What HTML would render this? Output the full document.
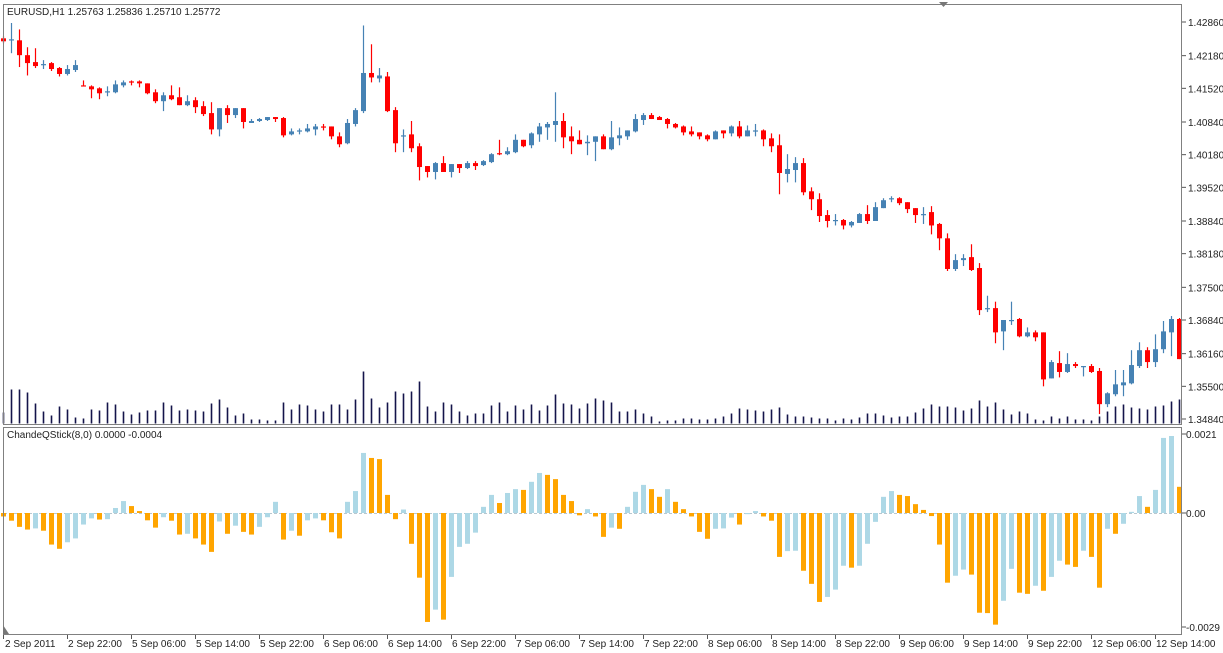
<!DOCTYPE html>
<html><head><meta charset="utf-8"><style>
html,body{margin:0;padding:0;background:#fff;}
svg{display:block;font-family:"Liberation Sans",sans-serif;font-size:10px;}
</style></head><body>
<svg id="chart" width="1223" height="653" viewBox="0 0 1223 653" xmlns="http://www.w3.org/2000/svg">
<rect x="0" y="0" width="1223" height="653" fill="#fff"/>
<g id="main"></g>
<g id="vol"></g>
<g id="ind"></g>
<g id="axes"></g>
<text x="7" y="15" fill="#222">EURUSD,H1  1.25763 1.25836 1.25710 1.25772</text>
<text x="7" y="438" fill="#222">ChandeQStick(8,0) 0.0000 -0.0004</text>
<polygon points="939,2 948,2 943.5,7" fill="#777"/>
<polygon points="3,625 3,634 9,634" fill="#777"/>
</svg>
<script>
// Price data in pips (price * 10000)
const opens=[14253,14249,14249,14219,14205,14199,14203,14193,14181,14189,14158,14156,14152,14144,14144,14158,14166,14166,14162,14144,14126,14138,14134,14118,14128,14116,14102,14069,14112,14098,14112,14082,14086,14088,14094,14092,14059,14065,14065,14069,14075,14075,14055,14041,14080,14106,14183,14172,14176,14108,14055,14059,14035,13995,13983,14001,13983,13999,13991,14001,13997,14003,14021,14019,14023,14048,14037,14059,14073,14078,14086,14055,14048,14041,14044,14055,14029,14051,14055,14065,14088,14098,14094,14090,14080,14075,14065,14063,14057,14049,14067,14061,14075,14055,14065,14067,14051,14037,13979,13987,14001,13944,13928,13896,13884,13886,13875,13880,13898,13884,13910,13928,13930,13922,13910,13896,13902,13878,13849,13787,13805,13811,13789,13706,13708,13661,13682,13686,13651,13659,13659,13566,13597,13579,13595,13589,13591,13581,13514,13534,13552,13556,13591,13623,13599,13625,13659,13686];
const closes=[14247,14251,14219,14203,14197,14201,14191,14181,14191,14199,14156,14150,14142,14146,14160,14164,14164,14162,14142,14126,14138,14130,14118,14126,14114,14100,14069,14112,14098,14112,14084,14086,14090,14094,14090,14057,14065,14067,14071,14075,14073,14055,14039,14082,14108,14183,14174,14178,14106,14041,14057,14031,13993,13983,14001,13983,13999,13991,14001,13995,14005,14019,14019,14025,14048,14035,14061,14075,14080,14086,14053,14045,14039,14044,14055,14029,14053,14057,14067,14090,14098,14090,14088,14080,14073,14063,14059,14055,14049,14065,14061,14075,14055,14067,14067,14049,14035,13981,13989,14001,13942,13928,13894,13884,13886,13875,13882,13898,13884,13912,13926,13930,13920,13908,13896,13898,13875,13849,13787,13805,13809,13785,13704,13708,13659,13684,13684,13651,13659,13649,13564,13599,13579,13595,13591,13591,13579,13514,13536,13554,13558,13593,13623,13599,13625,13661,13686,13605];
const highs=[14257,14284,14271,14235,14233,14209,14205,14195,14199,14209,14168,14158,14154,14156,14168,14168,14168,14168,14162,14150,14144,14158,14154,14138,14134,14126,14124,14112,14118,14112,14112,14090,14092,14094,14094,14094,14071,14071,14080,14080,14080,14075,14063,14090,14112,14279,14241,14193,14185,14114,14069,14086,14041,13995,14003,14015,13999,13999,14005,14005,14007,14021,14048,14033,14059,14048,14063,14082,14084,14144,14102,14075,14067,14057,14055,14059,14086,14073,14067,14100,14102,14102,14096,14092,14082,14077,14075,14063,14059,14067,14067,14077,14086,14077,14080,14069,14061,14059,14019,14013,14011,13952,13940,13906,13898,13888,13884,13900,13916,13922,13930,13934,13932,13922,13910,13912,13914,13880,13859,13817,13817,13837,13799,13733,13721,13684,13721,13688,13669,13663,13659,13603,13621,13617,13599,13591,13595,13587,13538,13583,13583,13623,13639,13629,13655,13682,13692,13688];
const lows=[14243,14223,14195,14178,14193,14191,14187,14176,14178,14185,14156,14132,14130,14136,14142,14154,14158,14154,14140,14122,14106,14128,14118,14116,14102,14096,14059,14055,14082,14092,14071,14082,14084,14086,14084,14053,14057,14059,14063,14057,14067,14049,14033,14039,14075,14102,14164,14164,14104,14023,14023,14023,13966,13972,13968,13983,13972,13981,13989,13987,13995,14001,14017,14017,14021,14033,14031,14044,14048,14044,14031,14019,14039,14017,14005,14029,14027,14037,14048,14063,14078,14090,14088,14071,14071,14057,14055,14049,14045,14049,14051,14055,14051,14055,14055,14035,14023,13938,13962,13962,13936,13906,13882,13871,13875,13867,13871,13880,13878,13884,13910,13922,13916,13900,13880,13878,13857,13825,13783,13783,13793,13783,13694,13700,13637,13623,13674,13649,13649,13641,13550,13566,13568,13577,13587,13570,13577,13494,13508,13530,13530,13554,13587,13587,13589,13617,13611,13605];
const volumes=[11,34,34,31,20,12,8,17,14,6,5,14,13,21,19,12,9,11,13,13,21,18,13,14,13,12,20,24,16,8,10,4,4,3,3,21,14,19,18,14,12,19,19,14,24,52,25,16,21,32,30,32,42,17,12,21,19,12,8,10,10,18,21,12,18,14,19,13,18,29,20,19,15,20,25,23,21,12,12,14,10,7,2,3,3,5,5,4,4,5,7,10,15,14,13,12,14,16,9,7,7,6,5,5,3,5,4,6,10,10,8,6,7,7,11,15,19,17,17,16,13,15,23,17,21,14,9,12,10,4,3,7,5,7,4,4,3,7,12,17,19,16,15,14,17,18,22,24];
// QStick values in units of 0.0001
const qstick=[-0.9,-2.0,-3.6,-4.3,-4.0,-4.6,-8.2,-9.3,-7.6,-6.6,-3.0,-1.4,-1.7,-1.6,1.3,3.1,1.8,0.5,-1.9,-3.8,-1.1,-2.0,-5.6,-5.4,-6.6,-8.2,-10.1,-2.2,-5.4,-3.3,-4.9,-5.6,-3.6,-1.1,2.9,-6.9,-4.6,-5.9,-1.9,-1.4,-1.9,-5.0,-6.6,2.9,5.7,15.6,14.3,14.0,4.7,-1.6,0.9,-8.0,-16.8,-28.3,-25.1,-27.7,-16.6,-8.8,-8.0,-5.1,1.6,4.7,2.6,5.2,6.2,6.0,8.1,10.4,9.9,8.8,4.7,3.1,-0.6,1.0,-0.9,-6.2,-3.8,-4.1,1.6,5.5,7.3,6.2,4.2,6.2,2.9,1.0,-0.9,-4.9,-6.7,-4.1,-4.0,-1.2,-3.0,-0.3,0.5,-0.9,-2.0,-11.4,-9.9,-9.8,-15.0,-18.4,-23.1,-21.8,-19.9,-13.7,-14.2,-13.7,-8.0,-2.3,4.2,5.7,4.7,4.4,2.3,0.8,-0.8,-8.2,-18.1,-16.3,-14.7,-16.0,-25.9,-26.0,-29.0,-22.8,-14.5,-20.7,-21.0,-18.9,-20.2,-16.6,-12.4,-13.4,-14.0,-9.8,-11.4,-19.4,-4.1,-5.4,-2.8,0.3,4.4,1.6,6.0,19.5,20.0,6.8];
const priceTicks=[14286,14218,14152,14084,14018,13952,13884,13818,13750,13684,13616,13550,13484];
const qTicks=[21,0,-29];
const timeLabels=["2 Sep 2011","2 Sep 22:00","5 Sep 06:00","5 Sep 14:00","5 Sep 22:00","6 Sep 06:00","6 Sep 14:00","6 Sep 22:00","7 Sep 06:00","7 Sep 14:00","7 Sep 22:00","8 Sep 06:00","8 Sep 14:00","8 Sep 22:00","9 Sep 06:00","9 Sep 14:00","9 Sep 22:00","12 Sep 06:00","12 Sep 14:00"];

const NS="http://www.w3.org/2000/svg";
function mk(tag,attrs,parent){const e=document.createElementNS(NS,tag);for(const k in attrs)e.setAttribute(k,attrs[k]);parent.appendChild(e);return e;}
const xOf=i=>3.5+8*i;
const yP=p=>22+(14286-p)*397/802;
const volBase=423.5;
const yV=v=>volBase-v;
const yQ=v=>513-v*3.85;
const gMain=document.getElementById('main'),gVol=document.getElementById('vol'),gInd=document.getElementById('ind'),gAx=document.getElementById('axes');

let r=mk('rect',{x:3.5,y:4.5,width:1178,height:420,fill:'none',stroke:'#808080'},gAx);


r=mk('rect',{x:3.5,y:427.5,width:1178,height:207,fill:'none',stroke:'#808080'},gAx);



volumes.forEach((v,i)=>{
  const l=mk('line',{x1:xOf(i),x2:xOf(i),y1:volBase,y2:yV(v),stroke:'#14144a','stroke-width':1.6},gVol);
  
  
});
opens.forEach((o,i)=>{
  const c=closes[i],up=c>o,col=up?'#4682b4':'#ff0000';
  const g=mk('g',{},gMain);
  
  
  const x=xOf(i);
  mk('line',{x1:x,x2:x,y1:yP(highs[i]),y2:yP(lows[i]),stroke:col,'stroke-width':1.2},g);
  const t=yP(Math.max(o,c)),b=yP(Math.min(o,c));
  mk('rect',{x:x-2.5,y:t,width:5,height:Math.max(1.2,b-t),fill:col},g);
});
const zl=mk('line',{x1:4,x2:1181,y1:513.5,y2:513.5,stroke:'#b8c8d0','stroke-dasharray':'3,2'},gInd);


qstick.forEach((v,i)=>{
  const up=i===0?false:v>qstick[i-1];
  const y0=yQ(0),y1=yQ(v);
  const b=mk('rect',{x:xOf(i)-2.5,y:Math.min(y0,y1),width:5,height:Math.max(1,Math.abs(y1-y0)),fill:up?'#add8e6':'#ffa500'},gInd);
  
  
});
priceTicks.forEach(p=>{
  const y=yP(p);
  const t=mk('line',{x1:1182,x2:1186,y1:y,y2:y,stroke:'#555'},gAx);
  
  
  const tx=mk('text',{x:1188,y:y+4,fill:'#222'},gAx);
  tx.textContent=(p/10000).toFixed(5);
  
  
});
qTicks.forEach(v=>{
  const y=v===21?434:(v===-29?627:yQ(0));
  const t=mk('line',{x1:1182,x2:1186,y1:y,y2:y,stroke:'#555'},gAx);
  
  
  const tx=mk('text',{x:1186,y:y+4,fill:'#222'},gAx);
  tx.textContent=v===0?'0.00':(v/10000).toFixed(4);
  
  
});
timeLabels.forEach((s,k)=>{
  const x=3+64*k;
  const t=mk('line',{x1:x+0.5,x2:x+0.5,y1:635,y2:639,stroke:'#555'},gAx);
  
  
  const tx=mk('text',{x:k===0?5:x+1,y:647,fill:'#222'},gAx);
  tx.textContent=s;
  
  
});
</script>
</body></html>
